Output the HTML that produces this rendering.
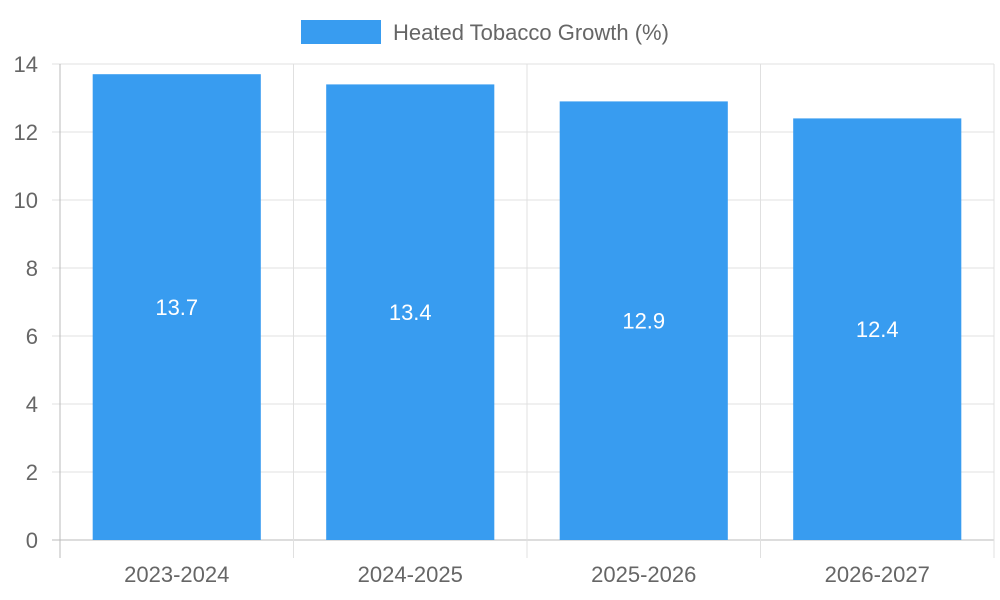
<!DOCTYPE html>
<html><head><meta charset="utf-8"><style>
html,body{margin:0;padding:0;background:#fff;}
svg{display:block;font-family:"Liberation Sans",sans-serif;}
</style></head><body>
<svg id="chart" width="1000" height="600" viewBox="0 0 1000 600"></svg>
<script>
const categories = ["2023-2024","2024-2025","2025-2026","2026-2027"];
const values = [13.7,13.4,12.9,12.4];
const yTicks = [0,2,4,6,8,10,12,14];
const seriesName = "Heated Tobacco Growth (%)";

const svg = document.getElementById('chart');
const NS = "http://www.w3.org/2000/svg";
const L = 60, R = 994, T = 64, B = 540, yMax = 14;
const y = v => B - (v / yMax) * (B - T);
const bandW = (R - L) / categories.length;
const x = i => L + i * bandW;
function mk(tag, attrs, parent) {
  const e = document.createElementNS(NS, tag);
  for (const k in attrs) e.setAttribute(k, attrs[k]);
  (parent || svg).appendChild(e);
  return e;
}
// legend
const lg = mk('g', {});


mk('rect', {x:301, y:20, width:80, height:24, fill:'#389cf0'}, lg);
const lt = mk('text', {x:393, y:40, 'font-size':22, fill:'#666'}, lg);
lt.textContent = seriesName;
// grid
const grid = mk('g', {});


yTicks.forEach(t => {
  mk('line', {x1:L-8, x2:R, y1:y(t), y2:y(t), stroke: t===0 ? '#bbb' : '#e0e0e0', 'stroke-width':1}, grid);
  const tx = mk('text', {x:38, y:y(t)+8, 'font-size':22, fill:'#666', 'text-anchor':'end'}, grid);
  
  
  tx.textContent = t;
});
for (let i = 0; i <= categories.length; i++) {
  mk('line', {x1:x(i), x2:x(i), y1:T, y2:B+18, stroke: i===0 ? '#bbb' : '#e0e0e0', 'stroke-width':1}, grid);
}
// bars
categories.forEach((c, i) => {
  const bw = bandW * 0.72;
  const bx = x(i) + (bandW - bw) / 2;
  const r = mk('rect', {x:bx, y:y(values[i]), width:bw, height:B - y(values[i]), fill:'#389cf0'});
  
  
  const vl = mk('text', {x:bx + bw/2, y:(y(values[i]) + B)/2 + 8, 'font-size':22, fill:'#fff', 'text-anchor':'middle'});
  
  
  vl.textContent = values[i];
  const xl = mk('text', {x:x(i) + bandW/2, y:582, 'font-size':22, fill:'#666', 'text-anchor':'middle'});
  
  
  xl.textContent = c;
});
</script>
</body></html>
